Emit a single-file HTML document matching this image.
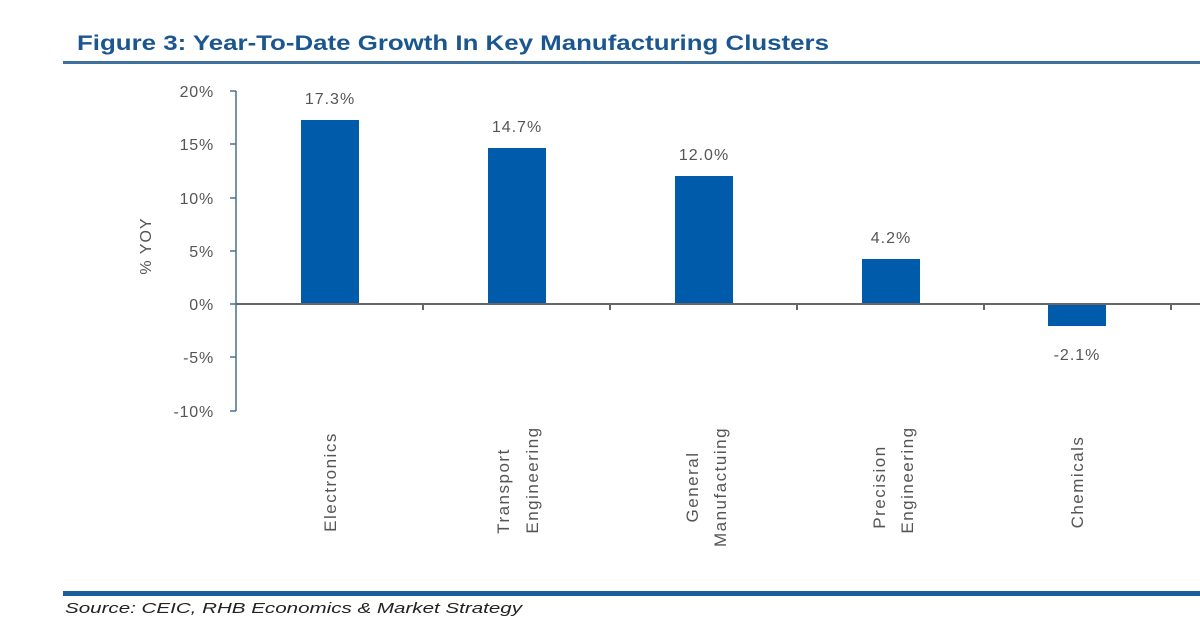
<!DOCTYPE html>
<html><head><meta charset="utf-8"><style>
body{margin:0;background:#fff;width:1200px;height:630px;overflow:hidden}
svg{display:block}
</style></head><body>
<svg width="1200" height="630" xmlns="http://www.w3.org/2000/svg" font-family="Liberation Sans, sans-serif">
<text x="77" y="50" font-size="21" font-weight="bold" fill="#1a5690" textLength="752" lengthAdjust="spacingAndGlyphs">Figure 3: Year-To-Date Growth In Key Manufacturing Clusters</text>
<rect x="63" y="61" width="1137" height="3" fill="#3f709e"/>
<rect x="63" y="591" width="1137" height="5" fill="#1a5e9e"/>
<text x="65" y="613" font-size="15" font-style="italic" fill="#222" textLength="457" lengthAdjust="spacingAndGlyphs">Source: CEIC, RHB Economics &amp; Market Strategy</text>
<g fill="#555" font-size="16" text-anchor="end" letter-spacing="0.8">
<text x="214" y="97">20%</text><text x="214" y="150">15%</text><text x="214" y="204">10%</text>
<text x="214" y="257">5%</text><text x="214" y="310">0%</text><text x="214" y="363">-5%</text><text x="214" y="417">-10%</text>
</g>
<text transform="translate(151,246) rotate(-90)" font-size="16" letter-spacing="1" fill="#555" text-anchor="middle">% YOY</text>
<g stroke="#4a6f93" stroke-width="1.5">
<line x1="236" y1="91" x2="236" y2="411"/>
<line x1="230" y1="91" x2="236" y2="91"/><line x1="230" y1="144" x2="236" y2="144"/>
<line x1="230" y1="198" x2="236" y2="198"/><line x1="230" y1="251" x2="236" y2="251"/>
<line x1="230" y1="304" x2="236" y2="304"/><line x1="230" y1="357" x2="236" y2="357"/>
<line x1="230" y1="411" x2="236" y2="411"/>
</g>
<g fill="#005bab">
<rect x="301" y="120" width="58" height="184"/>
<rect x="488" y="148" width="58" height="156"/>
<rect x="675" y="176" width="58" height="128"/>
<rect x="862" y="259" width="58" height="45"/>
<rect x="1048" y="304" width="58" height="22"/>
</g>
<g stroke="#666" stroke-width="2">
<line x1="236" y1="304" x2="1200" y2="304"/>
<line x1="423" y1="304" x2="423" y2="310"/><line x1="610" y1="304" x2="610" y2="310"/>
<line x1="797" y1="304" x2="797" y2="310"/><line x1="984" y1="304" x2="984" y2="310"/>
<line x1="1171" y1="304" x2="1171" y2="310"/>
</g>
<g fill="#555" font-size="16" text-anchor="middle" letter-spacing="1">
<text x="330" y="104">17.3%</text><text x="517" y="132">14.7%</text>
<text x="704" y="160">12.0%</text><text x="891" y="243">4.2%</text>
<text x="1077" y="360">-2.1%</text>
</g>
<g fill="#555" font-size="17" text-anchor="middle" letter-spacing="1.5">
<text transform="translate(336,482) rotate(-90)">Electronics</text>
<text transform="translate(509,491) rotate(-90)">Transport</text>
<text transform="translate(538,480) rotate(-90)">Engineering</text>
<text transform="translate(698,487) rotate(-90)">General</text>
<text transform="translate(726,487) rotate(-90)">Manufactuing</text>
<text transform="translate(885,487) rotate(-90)">Precision</text>
<text transform="translate(913,480) rotate(-90)">Engineering</text>
<text transform="translate(1083,482) rotate(-90)">Chemicals</text>
</g>
</svg>
</body></html>
